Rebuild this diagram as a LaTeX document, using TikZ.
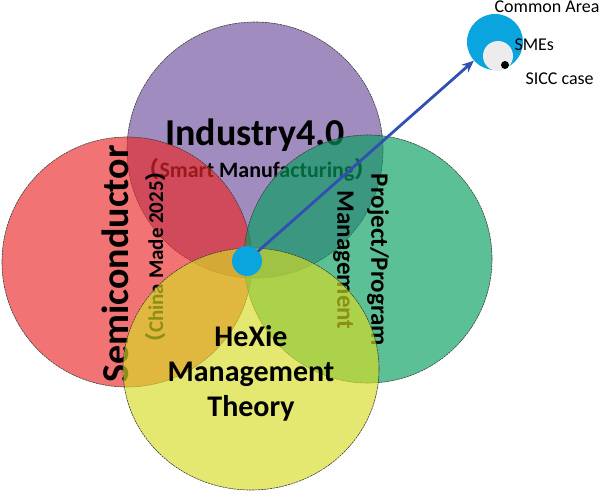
\documentclass[tikz,border=0pt]{standalone}
\usepackage{fontspec}
\setmainfont{Carlito}
\newfontfamily\cjk{Noto Sans CJK SC}
\usepackage{xcolor}
\usetikzlibrary{arrows.meta, positioning, shapes.geometric}

\definecolor{indPurple}{RGB}{160,140,190}
\definecolor{semiRed}{RGB}{235,40,40}
\definecolor{projGreen}{RGB}{5,158,94}
\definecolor{hexYellow}{RGB}{215,220,35}
\definecolor{dotBlue}{RGB}{10,165,223}
\definecolor{arrBlue}{RGB}{50,80,180}
\definecolor{smeGray}{RGB}{236,236,236}

\newcommand{\fwl}{{\cjk\bfseries （}}
\newcommand{\fwr}{{\cjk\bfseries ）}}

\begin{document}
\begin{tikzpicture}[x=1pt, y=-1pt, >=Stealth, line cap=round, line join=round,
    ring/.style={draw=black!75, line width=0.6pt, dash pattern=on 2pt off 1pt, inner sep=0pt},
    big/.style={font=\bfseries\fontsize{38}{44}\selectfont},
    sub/.style={font=\bfseries\fontsize{22}{28}\selectfont},
    mid/.style={font=\bfseries\fontsize{25}{34}\selectfont},
    hx/.style={font=\bfseries\fontsize{30}{35}\selectfont},
    leg/.style={font=\fontsize{18}{22}\selectfont},
    dot/.style={circle, inner sep=0pt}]

    \useasboundingbox (0,0) rectangle (607,498);

    % Industry 4.0
    \node[ring, circle, fill=indPurple, minimum size=256pt] (ind) at (255,150) {};
    \node[big, anchor=base] (indTxt) at (255,145) {Industry4.0};
    \node[sub, anchor=base] (indSub) at (257,177) {\fwl Smart Manufacturing\fwr};

    % Semiconductor
    \node[ring, circle, fill=semiRed, fill opacity=0.65, minimum size=250pt] (semi) at (127,262) {};
    \node[big, anchor=base, rotate=90] (semiTxt) at (128,264) {Semiconductor};
    \node[sub, anchor=base, rotate=90, font=\bfseries\fontsize{21}{26}\selectfont] (semiSub) at (163,257) {\fwl China Made 2025\fwr};

    % Project/Program Management
    \node[ring, circle, fill=projGreen, fill opacity=0.65, minimum size=248pt] (proj) at (368,259) {};
    \node[mid, rotate=-90, align=center] (projTxt) at (361,260) {Project/Program\\Management};

    % HeXie Management Theory
    \node[ring, ellipse, fill=hexYellow, fill opacity=0.65, minimum width=256pt, minimum height=242pt] (hexie) at (251,369) {};
    \node[hx, align=center] (hexTxt) at (251,373) {HeXie\\Management\\Theory};

    % Common area of the four fields
    \node[dot, fill=dotBlue, minimum size=30pt] (core) at (247,261) {};

    % Legend
    \node[dot, fill=dotBlue, minimum size=56pt] (common) at (495,42) {};
    \node[dot, fill=smeGray, minimum size=30pt] (sme) at (498,56) {};
    \node[dot, fill=black, minimum size=8pt] (sicc) at (505,65) {};
    \node[leg, anchor=base west] (commonTxt) at (491,12) {Common Area};
    \node[leg, anchor=base west] (smeTxt) at (511,50) {SMEs};
    \node[leg, anchor=base west] (siccTxt) at (522,84) {SICC case};

    \draw[-{Stealth[length=12pt, width=10pt]}, arrBlue, line width=2.8pt] (core) -- (common);

\end{tikzpicture}
\end{document}
